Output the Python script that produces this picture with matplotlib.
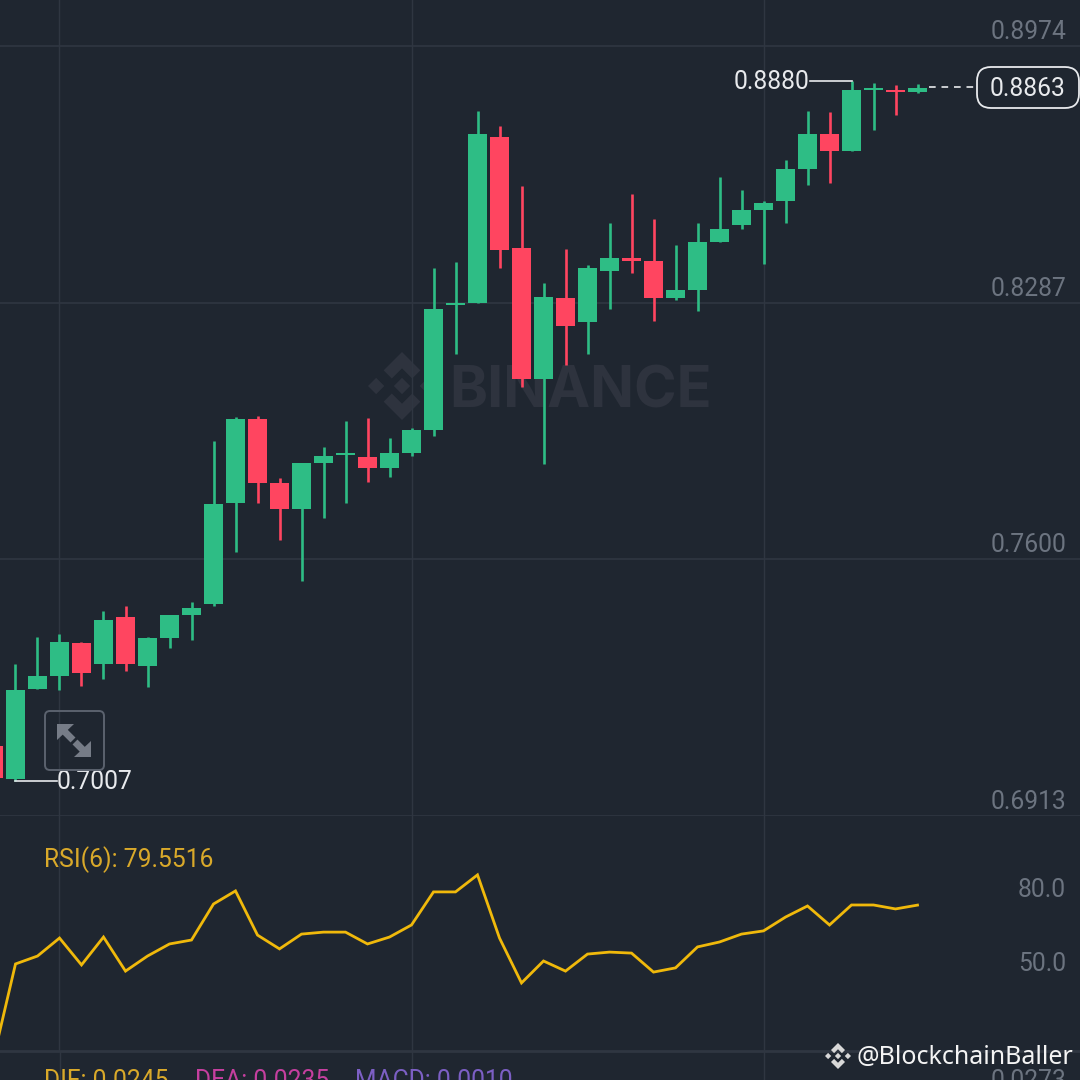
import matplotlib
matplotlib.use("Agg")
import matplotlib.pyplot as plt
from matplotlib.patches import FancyBboxPatch, Polygon

# candles, oldest first (the first one is cut off by the left edge)
opens = [0.7100, 0.7012, 0.7253, 0.7288, 0.7376, 0.7320, 0.7446, 0.7314, 0.7389, 0.7451,
         0.7480, 0.7751, 0.7976, 0.7804, 0.7735, 0.7858, 0.7879, 0.7874, 0.7844, 0.7885,
         0.7946, 0.8281, 0.8286, 0.8730, 0.8433, 0.8083, 0.8299, 0.8235, 0.8372, 0.8407,
         0.8398, 0.8299, 0.8321, 0.8449, 0.8495, 0.8535, 0.8559, 0.8645, 0.8738, 0.8693,
         0.8856, 0.8856, 0.8851]
highs = [0.7125, 0.7320, 0.7392, 0.7400, 0.7379, 0.7462, 0.7475, 0.7392, 0.7451, 0.7486,
         0.7917, 0.7981, 0.7984, 0.7818, 0.7858, 0.7901, 0.7970, 0.7978, 0.7925, 0.7951,
         0.8380, 0.8396, 0.8800, 0.8760, 0.8599, 0.8340, 0.8431, 0.8388, 0.8500, 0.8578,
         0.8511, 0.8441, 0.8500, 0.8623, 0.8589, 0.8559, 0.8669, 0.8800, 0.8797, 0.8880,
         0.8875, 0.8870, 0.8872]
lows = [0.7015, 0.7007, 0.7253, 0.7250, 0.7261, 0.7280, 0.7301, 0.7258, 0.7363, 0.7384,
        0.7475, 0.7620, 0.7751, 0.7652, 0.7542, 0.7711, 0.7751, 0.7807, 0.7820, 0.7877,
        0.7930, 0.8150, 0.8286, 0.8380, 0.8061, 0.7856, 0.8120, 0.8150, 0.8270, 0.8366,
        0.8238, 0.8294, 0.8265, 0.8449, 0.8484, 0.8390, 0.8500, 0.8602, 0.8607, 0.8693,
        0.8749, 0.8789, 0.8848]
closes = [0.7015, 0.7250, 0.7288, 0.7379, 0.7296, 0.7438, 0.7320, 0.7389, 0.7451, 0.7470,
          0.7748, 0.7976, 0.7804, 0.7735, 0.7858, 0.7877, 0.7885, 0.7844, 0.7885, 0.7946,
          0.8270, 0.8286, 0.8738, 0.8428, 0.8083, 0.8302, 0.8225, 0.8380, 0.8407, 0.8398,
          0.8299, 0.8321, 0.8449, 0.8484, 0.8535, 0.8554, 0.8645, 0.8738, 0.8693, 0.8856,
          0.8862, 0.8851, 0.8862]

rsi = [17.6, 55.7, 58.9, 66.2, 55.3, 66.6, 52.8, 58.9, 63.8, 65.4, 80.0, 85.3, 67.4, 61.8,
       67.8, 68.6, 68.6, 63.8, 66.6, 71.5, 84.9, 84.9, 91.8, 66.2, 48.0, 56.9, 52.8, 59.7,
       60.5, 60.1, 52.4, 54.1, 62.6, 64.6, 67.8, 69.1, 74.7, 79.2, 71.5, 79.6, 79.6, 78.0,
       79.5516]

price_ticks = [0.8974, 0.8287, 0.7600, 0.6913]
rsi_ticks = [80.0, 50.0]
macd_tick = "0.0273"
grid_candles = [3, 19, 35]
last_price = 0.8863
macd_labels = ["DIF: 0.0245", "DEA: 0.0235", "MACD: 0.0010"]
macd_colors = ["#d9a92a", "#c53f9f", "#7c5fc4"]

BG = "#1f2630"
GRID = "#2f3641"
UP = "#2ebd85"
DOWN = "#ff4560"
TICK = "#6c7480"
LABEL = "#e8eaed"
RSI_COL = "#f0b90b"
WATERMARK = "#2e333e"

plt.rcParams["font.family"] = ["Roboto", "DejaVu Sans"]

W = 1080
FS = 17.7
fig = plt.figure(figsize=(10.8, 10.8), dpi=100, facecolor=BG)


def panel(top, bottom, zorder):
    ax = fig.add_axes([0, 1 - bottom / W, 1, (bottom - top) / W], zorder=zorder)
    ax.patch.set_visible(False)
    ax.set_axis_off()
    ax.set_xlim(0.2955, 49.386)
    return ax


back = fig.add_axes([0, 0, 1, 1], zorder=0)
back.set_xlim(0, W)
back.set_ylim(W, 0)
back.set_axis_off()

front = fig.add_axes([0, 0, 1, 1], zorder=5)
front.patch.set_visible(False)
front.set_xlim(0, W)
front.set_ylim(W, 0)
front.set_axis_off()

ax = panel(0, 816, 1)
ax.set_ylim(0.6913, 0.90971)
ax_rsi = panel(816, 1051, 2)
ax_rsi.set_ylim(20.41, 115.67)


# grid
for v in price_ticks:
    ax.axhline(v, color=GRID, lw=1.2, zorder=1)
back.axhline(1051, color=GRID, lw=2.0, zorder=1)
for i in grid_candles:
    ax.axvline(i, color=GRID, lw=1.0, zorder=1)
    ax_rsi.axvline(i, color=GRID, lw=1.0, zorder=1)
    back.plot([-6.5 + 22 * i] * 2, [1051, 1080], color=GRID, lw=1.0)

# BINANCE watermark behind the candles
back.text(449, 392, "BINANCE", fontsize=41.5, fontweight="bold", family="Inter",
          color=WATERMARK, va="center", ha="left")


def diamond(axis, cx, cy, r, color):
    axis.add_patch(Polygon([(cx, cy - r), (cx + r, cy), (cx, cy + r), (cx - r, cy)],
                           color=color, lw=0))


def chevron(axis, cx, cy, r, t, sign, color):
    # sign -1 points up, +1 points down
    pts = [(cx - r, cy), (cx, cy + sign * r), (cx + r, cy),
           (cx + r - t, cy - sign * t), (cx, cy + sign * (r - 2 * t)), (cx - r + t, cy - sign * t)]
    axis.add_patch(Polygon(pts, color=color, lw=0))


def logo(axis, cx, cy, s, color):
    diamond(axis, cx, cy, 0.24 * s, color)
    diamond(axis, cx - 0.76 * s, cy, 0.24 * s, color)
    diamond(axis, cx + 0.76 * s, cy, 0.24 * s, color)
    chevron(axis, cx, cy - 0.46 * s, 0.54 * s, 0.24 * s, -1, color)
    chevron(axis, cx, cy + 0.46 * s, 0.54 * s, 0.24 * s, 1, color)


logo(back, 402, 386, 34, WATERMARK)

# candles
for i in range(len(opens)):
    col = UP if closes[i] >= opens[i] else DOWN
    ax.vlines(i, lows[i], highs[i], color=col, lw=1.9, zorder=3)
    ax.bar(i, abs(closes[i] - opens[i]), bottom=min(opens[i], closes[i]), width=0.88,
           color=col, lw=0, zorder=4)

# price axis labels sit a little above their grid lines
for v in price_ticks:
    ax.annotate(f"{v:.4f}", (1, v), xycoords=("axes fraction", "data"), xytext=(-14, 14),
                textcoords="offset pixels", ha="right", va="center", fontsize=FS, color=TICK)
for v in rsi_ticks:
    ax_rsi.annotate(f"{v:.1f}", (1, v), xycoords=("axes fraction", "data"), xytext=(-14, 14),
                    textcoords="offset pixels", ha="right", va="center", fontsize=FS, color=TICK)

# high / low markers
i_low = lows.index(min(lows))
i_high = highs.index(max(highs))
ax.plot([i_low, i_low + 1.89], [lows[i_low]] * 2, color=LABEL, lw=1.2, zorder=5)
ax.annotate(f"{lows[i_low]:.4f}", (i_low + 1.89, lows[i_low]), xytext=(0, -1),
            textcoords="offset pixels", ha="left", va="center", fontsize=FS, color=LABEL, zorder=6)
ax.plot([i_high - 1.89, i_high], [highs[i_high]] * 2, color=LABEL, lw=1.2, zorder=5)
ax.annotate(f"{highs[i_high]:.4f}", (i_high - 1.89, highs[i_high]), xytext=(0, -1),
            textcoords="offset pixels", ha="right", va="center", fontsize=FS, color=LABEL, zorder=6)

# last price tag
ax.plot([42.5, 44.75], [last_price, last_price], color=LABEL, lw=1.2, ls=(0, (4, 3.5)), zorder=5)
front.add_patch(FancyBboxPatch((985, 75), 86, 25, boxstyle="round,pad=8,rounding_size=14",
                               fc=BG, ec=LABEL, lw=1.3))
front.text(1028, 89, f"{last_price:.4f}", ha="center", va="center", fontsize=FS, color=LABEL)

# expand button
front.add_patch(FancyBboxPatch((49, 715), 51, 51, boxstyle="round,pad=4,rounding_size=5",
                               fc="none", ec="#5b626e", lw=1.4))
front.add_patch(Polygon([(57, 724), (74, 724), (57, 740)], color="#767c87", lw=0))
front.add_patch(Polygon([(91, 757), (74, 757), (91, 741)], color="#767c87", lw=0))
front.plot([64, 73], [731, 740], color="#767c87", lw=5, solid_capstyle="butt")
front.plot([75, 84], [742, 751], color="#767c87", lw=5, solid_capstyle="butt")

# RSI panel
ax_rsi.plot(range(len(rsi)), rsi, color=RSI_COL, lw=2.0, solid_joinstyle="miter", zorder=3)
front.text(44, 860, f"RSI(6): {rsi[-1]:.4f}", fontsize=FS, color=macd_colors[0], va="center")

# MACD legend, cut by the bottom edge
for x, s, c in zip([44, 195, 355], macd_labels, macd_colors):
    front.text(x, 1081, s, fontsize=FS, color=c, va="center", clip_on=True)
front.text(1066, 1081, macd_tick, fontsize=FS, color=TICK, va="center", ha="right", clip_on=True)

# author stamp
logo(front, 838, 1056, 13, "#d8d8d8")
front.text(857, 1058, "@BlockchainBaller", fontsize=18.0, family="Noto Sans", fontweight="normal",
           color="#f4f4f4", va="center", ha="left")

fig.savefig("out.png", dpi=100, facecolor=BG)
